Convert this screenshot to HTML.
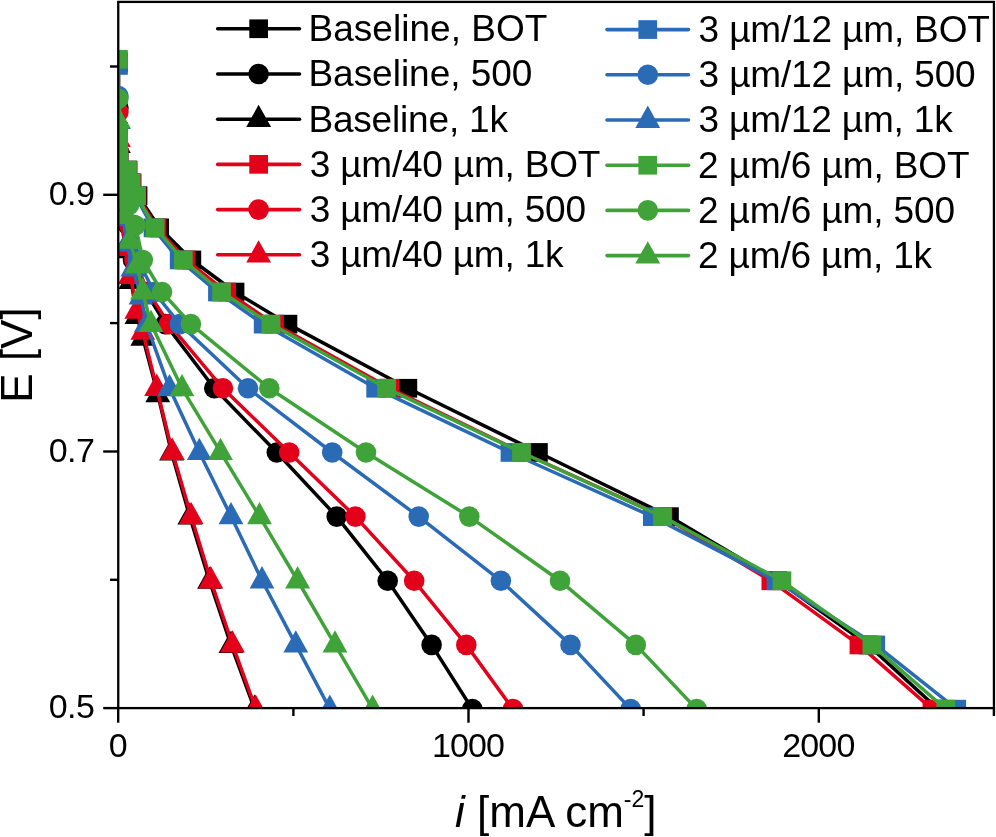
<!DOCTYPE html>
<html><head><meta charset="utf-8"><title>Polarization curves</title>
<style>
html,body{margin:0;padding:0;background:#fff;}
body{width:996px;height:837px;overflow:hidden;}
svg{display:block;font-family:"Liberation Sans",sans-serif;fill:#000;}
</style></head><body>
<svg width="996" height="837" viewBox="0 0 996 837">
<rect width="996" height="837" fill="#fff"/>
<defs><clipPath id="plot"><rect x="118.25" y="1.9" width="875.7" height="706.2"/></clipPath></defs>
<g clip-path="url(#plot)">
<polyline fill="none" stroke="#000000" stroke-width="3.5" stroke-linejoin="round" points="938.0,709.1 868.0,644.9 778.0,580.8 669.5,516.6 538.5,452.5 407.9,388.3 288.0,324.1 235.0,292.0 191.8,260.0 159.7,227.9 138.0,195.8 132.0,183.0 128.0,170.1 119.0,157.3 118.6,144.5 118.5,131.6 118.4,62.0"/>
<rect x="928.6" y="699.8" width="18.7" height="18.7" fill="#000000"/>
<rect x="858.6" y="635.6" width="18.7" height="18.7" fill="#000000"/>
<rect x="768.6" y="571.4" width="18.7" height="18.7" fill="#000000"/>
<rect x="660.1" y="507.3" width="18.7" height="18.7" fill="#000000"/>
<rect x="529.1" y="443.1" width="18.7" height="18.7" fill="#000000"/>
<rect x="398.5" y="378.9" width="18.7" height="18.7" fill="#000000"/>
<rect x="278.6" y="314.8" width="18.7" height="18.7" fill="#000000"/>
<rect x="225.7" y="282.7" width="18.7" height="18.7" fill="#000000"/>
<rect x="182.5" y="250.6" width="18.7" height="18.7" fill="#000000"/>
<rect x="150.3" y="218.5" width="18.7" height="18.7" fill="#000000"/>
<rect x="128.7" y="186.4" width="18.7" height="18.7" fill="#000000"/>
<rect x="122.7" y="173.6" width="18.7" height="18.7" fill="#000000"/>
<rect x="118.7" y="160.8" width="18.7" height="18.7" fill="#000000"/>
<rect x="109.7" y="148.0" width="18.7" height="18.7" fill="#000000"/>
<rect x="109.2" y="135.1" width="18.7" height="18.7" fill="#000000"/>
<rect x="109.2" y="122.3" width="18.7" height="18.7" fill="#000000"/>
<rect x="109.1" y="52.6" width="18.7" height="18.7" fill="#000000"/>
<polyline fill="none" stroke="#000000" stroke-width="3.5" stroke-linejoin="round" points="472.3,709.1 431.6,644.9 387.7,580.8 336.7,516.6 276.8,452.5 214.3,388.3 165.5,324.1 146.0,292.0 133.0,260.0 128.0,225.0 123.0,203.0 118.4,108.0"/>
<circle cx="472.3" cy="709.1" r="10.3" fill="#000000"/>
<circle cx="431.6" cy="644.9" r="10.3" fill="#000000"/>
<circle cx="387.7" cy="580.8" r="10.3" fill="#000000"/>
<circle cx="336.7" cy="516.6" r="10.3" fill="#000000"/>
<circle cx="276.8" cy="452.5" r="10.3" fill="#000000"/>
<circle cx="214.3" cy="388.3" r="10.3" fill="#000000"/>
<circle cx="165.5" cy="324.1" r="10.3" fill="#000000"/>
<circle cx="146.0" cy="292.0" r="10.3" fill="#000000"/>
<circle cx="133.0" cy="260.0" r="10.3" fill="#000000"/>
<circle cx="128.0" cy="225.0" r="10.3" fill="#000000"/>
<circle cx="123.0" cy="203.0" r="10.3" fill="#000000"/>
<circle cx="118.4" cy="108.0" r="10.3" fill="#000000"/>
<polyline fill="none" stroke="#000000" stroke-width="3.5" stroke-linejoin="round" points="254.5,708.8 231.0,645.0 209.5,580.9 189.8,516.7 171.5,452.6 157.8,394.4 142.8,337.9 137.0,316.0 131.0,281.0 125.5,250.4 122.0,222.0 119.5,200.0 118.4,145.0"/>
<polygon points="254.5,694.4 242.1,716.7 266.9,716.7" fill="#000000"/>
<polygon points="231.0,630.6 218.6,652.9 243.4,652.9" fill="#000000"/>
<polygon points="209.5,566.5 197.1,588.8 221.9,588.8" fill="#000000"/>
<polygon points="189.8,502.3 177.4,524.6 202.2,524.6" fill="#000000"/>
<polygon points="171.5,438.2 159.1,460.5 183.9,460.5" fill="#000000"/>
<polygon points="157.8,380.0 145.4,402.3 170.2,402.3" fill="#000000"/>
<polygon points="142.8,323.5 130.4,345.8 155.2,345.8" fill="#000000"/>
<polygon points="137.0,301.6 124.5,323.9 149.4,323.9" fill="#000000"/>
<polygon points="131.0,266.6 118.5,288.9 143.4,288.9" fill="#000000"/>
<polygon points="125.5,236.0 113.0,258.3 137.9,258.3" fill="#000000"/>
<polygon points="122.0,207.6 109.5,229.9 134.4,229.9" fill="#000000"/>
<polygon points="119.5,185.6 107.0,207.9 131.9,207.9" fill="#000000"/>
<polygon points="118.4,130.6 106.0,152.9 130.8,152.9" fill="#000000"/>
<polyline fill="none" stroke="#e2001a" stroke-width="3.5" stroke-linejoin="round" points="932.0,709.1 859.0,644.9 770.9,580.8 663.0,516.6 522.0,452.5 390.0,388.3 274.6,324.1 226.7,292.0 186.1,260.0 157.0,227.9 137.0,195.8 131.5,183.0 127.7,170.1 119.0,157.3 118.6,144.5 118.5,131.6 118.4,63.0"/>
<rect x="922.6" y="699.8" width="18.7" height="18.7" fill="#e2001a"/>
<rect x="849.6" y="635.6" width="18.7" height="18.7" fill="#e2001a"/>
<rect x="761.5" y="571.4" width="18.7" height="18.7" fill="#e2001a"/>
<rect x="653.6" y="507.3" width="18.7" height="18.7" fill="#e2001a"/>
<rect x="512.6" y="443.1" width="18.7" height="18.7" fill="#e2001a"/>
<rect x="380.6" y="378.9" width="18.7" height="18.7" fill="#e2001a"/>
<rect x="265.2" y="314.8" width="18.7" height="18.7" fill="#e2001a"/>
<rect x="217.3" y="282.7" width="18.7" height="18.7" fill="#e2001a"/>
<rect x="176.8" y="250.6" width="18.7" height="18.7" fill="#e2001a"/>
<rect x="147.7" y="218.5" width="18.7" height="18.7" fill="#e2001a"/>
<rect x="127.7" y="186.4" width="18.7" height="18.7" fill="#e2001a"/>
<rect x="122.2" y="173.6" width="18.7" height="18.7" fill="#e2001a"/>
<rect x="118.4" y="160.8" width="18.7" height="18.7" fill="#e2001a"/>
<rect x="109.7" y="148.0" width="18.7" height="18.7" fill="#e2001a"/>
<rect x="109.2" y="135.1" width="18.7" height="18.7" fill="#e2001a"/>
<rect x="109.2" y="122.3" width="18.7" height="18.7" fill="#e2001a"/>
<rect x="109.1" y="53.6" width="18.7" height="18.7" fill="#e2001a"/>
<polyline fill="none" stroke="#e2001a" stroke-width="3.5" stroke-linejoin="round" points="513.0,709.1 466.3,644.9 414.2,580.8 355.4,516.6 289.2,452.5 222.9,388.3 169.0,324.1 148.0,292.0 134.5,260.0 129.0,225.0 124.0,203.0 118.4,112.0"/>
<circle cx="513.0" cy="709.1" r="10.3" fill="#e2001a"/>
<circle cx="466.3" cy="644.9" r="10.3" fill="#e2001a"/>
<circle cx="414.2" cy="580.8" r="10.3" fill="#e2001a"/>
<circle cx="355.4" cy="516.6" r="10.3" fill="#e2001a"/>
<circle cx="289.2" cy="452.5" r="10.3" fill="#e2001a"/>
<circle cx="222.9" cy="388.3" r="10.3" fill="#e2001a"/>
<circle cx="169.0" cy="324.1" r="10.3" fill="#e2001a"/>
<circle cx="148.0" cy="292.0" r="10.3" fill="#e2001a"/>
<circle cx="134.5" cy="260.0" r="10.3" fill="#e2001a"/>
<circle cx="129.0" cy="225.0" r="10.3" fill="#e2001a"/>
<circle cx="124.0" cy="203.0" r="10.3" fill="#e2001a"/>
<circle cx="118.4" cy="112.0" r="10.3" fill="#e2001a"/>
<polyline fill="none" stroke="#e2001a" stroke-width="3.5" stroke-linejoin="round" points="255.7,708.8 232.5,644.6 210.8,580.5 191.2,516.3 172.4,452.2 156.7,388.0 142.8,331.9 136.8,310.8 130.5,276.2 125.0,248.0 121.5,220.0 119.5,198.0 118.4,139.0"/>
<polygon points="255.7,694.4 243.2,716.7 268.1,716.7" fill="#e2001a"/>
<polygon points="232.5,630.2 220.1,652.5 244.9,652.5" fill="#e2001a"/>
<polygon points="210.8,566.1 198.4,588.4 223.2,588.4" fill="#e2001a"/>
<polygon points="191.2,501.9 178.8,524.2 203.6,524.2" fill="#e2001a"/>
<polygon points="172.4,437.8 160.0,460.1 184.8,460.1" fill="#e2001a"/>
<polygon points="156.7,373.6 144.2,395.9 169.1,395.9" fill="#e2001a"/>
<polygon points="142.8,317.5 130.4,339.8 155.2,339.8" fill="#e2001a"/>
<polygon points="136.8,296.4 124.4,318.7 149.2,318.7" fill="#e2001a"/>
<polygon points="130.5,261.8 118.0,284.1 142.9,284.1" fill="#e2001a"/>
<polygon points="125.0,233.6 112.5,255.9 137.4,255.9" fill="#e2001a"/>
<polygon points="121.5,205.6 109.0,227.9 133.9,227.9" fill="#e2001a"/>
<polygon points="119.5,183.6 107.0,205.9 131.9,205.9" fill="#e2001a"/>
<polygon points="118.4,124.6 106.0,146.9 130.8,146.9" fill="#e2001a"/>
<polyline fill="none" stroke="#2b6bb6" stroke-width="3.5" stroke-linejoin="round" points="956.7,709.1 875.7,644.9 776.0,580.8 652.4,516.6 510.0,452.5 375.7,388.3 263.2,324.1 217.4,292.0 179.2,260.0 153.0,227.9 135.5,195.8 130.5,183.0 127.0,170.1 118.8,157.3 118.5,144.5 118.4,131.6 118.4,65.5"/>
<rect x="947.4" y="699.8" width="18.7" height="18.7" fill="#2b6bb6"/>
<rect x="866.4" y="635.6" width="18.7" height="18.7" fill="#2b6bb6"/>
<rect x="766.6" y="571.4" width="18.7" height="18.7" fill="#2b6bb6"/>
<rect x="643.0" y="507.3" width="18.7" height="18.7" fill="#2b6bb6"/>
<rect x="500.6" y="443.1" width="18.7" height="18.7" fill="#2b6bb6"/>
<rect x="366.3" y="378.9" width="18.7" height="18.7" fill="#2b6bb6"/>
<rect x="253.8" y="314.8" width="18.7" height="18.7" fill="#2b6bb6"/>
<rect x="208.1" y="282.7" width="18.7" height="18.7" fill="#2b6bb6"/>
<rect x="169.8" y="250.6" width="18.7" height="18.7" fill="#2b6bb6"/>
<rect x="143.7" y="218.5" width="18.7" height="18.7" fill="#2b6bb6"/>
<rect x="126.2" y="186.4" width="18.7" height="18.7" fill="#2b6bb6"/>
<rect x="121.2" y="173.6" width="18.7" height="18.7" fill="#2b6bb6"/>
<rect x="117.7" y="160.8" width="18.7" height="18.7" fill="#2b6bb6"/>
<rect x="109.5" y="148.0" width="18.7" height="18.7" fill="#2b6bb6"/>
<rect x="109.2" y="135.1" width="18.7" height="18.7" fill="#2b6bb6"/>
<rect x="109.1" y="122.3" width="18.7" height="18.7" fill="#2b6bb6"/>
<rect x="109.1" y="56.1" width="18.7" height="18.7" fill="#2b6bb6"/>
<polyline fill="none" stroke="#2b6bb6" stroke-width="3.5" stroke-linejoin="round" points="630.7,709.1 570.5,644.9 500.9,580.8 418.7,516.6 332.2,452.5 248.0,388.3 179.8,324.1 154.0,292.0 138.0,260.0 134.0,225.0 128.0,204.0 118.4,96.0"/>
<circle cx="630.7" cy="709.1" r="10.3" fill="#2b6bb6"/>
<circle cx="570.5" cy="644.9" r="10.3" fill="#2b6bb6"/>
<circle cx="500.9" cy="580.8" r="10.3" fill="#2b6bb6"/>
<circle cx="418.7" cy="516.6" r="10.3" fill="#2b6bb6"/>
<circle cx="332.2" cy="452.5" r="10.3" fill="#2b6bb6"/>
<circle cx="248.0" cy="388.3" r="10.3" fill="#2b6bb6"/>
<circle cx="179.8" cy="324.1" r="10.3" fill="#2b6bb6"/>
<circle cx="154.0" cy="292.0" r="10.3" fill="#2b6bb6"/>
<circle cx="138.0" cy="260.0" r="10.3" fill="#2b6bb6"/>
<circle cx="134.0" cy="225.0" r="10.3" fill="#2b6bb6"/>
<circle cx="128.0" cy="204.0" r="10.3" fill="#2b6bb6"/>
<circle cx="118.4" cy="96.0" r="10.3" fill="#2b6bb6"/>
<polyline fill="none" stroke="#2b6bb6" stroke-width="3.5" stroke-linejoin="round" points="329.8,708.8 295.8,644.6 262.0,580.5 231.0,516.3 199.3,452.2 169.5,388.3 146.4,324.1 141.0,296.5 133.0,268.7 127.0,243.7 123.0,218.0 120.0,196.0 118.4,121.0"/>
<polygon points="329.8,694.4 317.4,716.7 342.2,716.7" fill="#2b6bb6"/>
<polygon points="295.8,630.2 283.4,652.5 308.2,652.5" fill="#2b6bb6"/>
<polygon points="262.0,566.1 249.6,588.4 274.4,588.4" fill="#2b6bb6"/>
<polygon points="231.0,501.9 218.6,524.2 243.4,524.2" fill="#2b6bb6"/>
<polygon points="199.3,437.8 186.9,460.1 211.8,460.1" fill="#2b6bb6"/>
<polygon points="169.5,373.9 157.1,396.2 181.9,396.2" fill="#2b6bb6"/>
<polygon points="146.4,309.7 134.0,332.0 158.8,332.0" fill="#2b6bb6"/>
<polygon points="141.0,282.1 128.6,304.4 153.4,304.4" fill="#2b6bb6"/>
<polygon points="133.0,254.3 120.5,276.6 145.4,276.6" fill="#2b6bb6"/>
<polygon points="127.0,229.3 114.5,251.6 139.4,251.6" fill="#2b6bb6"/>
<polygon points="123.0,203.6 110.5,225.9 135.4,225.9" fill="#2b6bb6"/>
<polygon points="120.0,181.6 107.5,203.9 132.4,203.9" fill="#2b6bb6"/>
<polygon points="118.4,106.6 106.0,128.9 130.8,128.9" fill="#2b6bb6"/>
<polyline fill="none" stroke="#3fa339" stroke-width="3.5" stroke-linejoin="round" points="945.7,709.1 871.9,644.9 782.0,580.8 662.5,516.6 521.5,452.5 386.6,388.3 271.0,324.1 221.5,292.0 183.3,260.0 155.2,227.9 136.5,195.8 131.2,183.0 127.4,170.1 118.9,157.3 118.5,144.5 118.4,131.6 118.4,59.3"/>
<rect x="936.4" y="699.8" width="18.7" height="18.7" fill="#3fa339"/>
<rect x="862.5" y="635.6" width="18.7" height="18.7" fill="#3fa339"/>
<rect x="772.6" y="571.4" width="18.7" height="18.7" fill="#3fa339"/>
<rect x="653.1" y="507.3" width="18.7" height="18.7" fill="#3fa339"/>
<rect x="512.1" y="443.1" width="18.7" height="18.7" fill="#3fa339"/>
<rect x="377.2" y="378.9" width="18.7" height="18.7" fill="#3fa339"/>
<rect x="261.6" y="314.8" width="18.7" height="18.7" fill="#3fa339"/>
<rect x="212.2" y="282.7" width="18.7" height="18.7" fill="#3fa339"/>
<rect x="174.0" y="250.6" width="18.7" height="18.7" fill="#3fa339"/>
<rect x="145.8" y="218.5" width="18.7" height="18.7" fill="#3fa339"/>
<rect x="127.2" y="186.4" width="18.7" height="18.7" fill="#3fa339"/>
<rect x="121.8" y="173.6" width="18.7" height="18.7" fill="#3fa339"/>
<rect x="118.1" y="160.8" width="18.7" height="18.7" fill="#3fa339"/>
<rect x="109.6" y="148.0" width="18.7" height="18.7" fill="#3fa339"/>
<rect x="109.2" y="135.1" width="18.7" height="18.7" fill="#3fa339"/>
<rect x="109.1" y="122.3" width="18.7" height="18.7" fill="#3fa339"/>
<rect x="109.1" y="49.9" width="18.7" height="18.7" fill="#3fa339"/>
<polyline fill="none" stroke="#3fa339" stroke-width="3.5" stroke-linejoin="round" points="696.7,709.1 635.8,644.9 560.0,580.8 469.3,516.6 366.0,452.5 269.3,388.3 190.9,324.1 162.0,292.0 142.8,260.0 135.5,225.5 129.0,205.0 118.4,98.7"/>
<circle cx="696.7" cy="709.1" r="10.3" fill="#3fa339"/>
<circle cx="635.8" cy="644.9" r="10.3" fill="#3fa339"/>
<circle cx="560.0" cy="580.8" r="10.3" fill="#3fa339"/>
<circle cx="469.3" cy="516.6" r="10.3" fill="#3fa339"/>
<circle cx="366.0" cy="452.5" r="10.3" fill="#3fa339"/>
<circle cx="269.3" cy="388.3" r="10.3" fill="#3fa339"/>
<circle cx="190.9" cy="324.1" r="10.3" fill="#3fa339"/>
<circle cx="162.0" cy="292.0" r="10.3" fill="#3fa339"/>
<circle cx="142.8" cy="260.0" r="10.3" fill="#3fa339"/>
<circle cx="135.5" cy="225.5" r="10.3" fill="#3fa339"/>
<circle cx="129.0" cy="205.0" r="10.3" fill="#3fa339"/>
<circle cx="118.4" cy="98.7" r="10.3" fill="#3fa339"/>
<polyline fill="none" stroke="#3fa339" stroke-width="3.5" stroke-linejoin="round" points="372.6,708.8 335.0,644.6 297.6,580.5 259.5,516.3 220.5,452.2 182.0,388.3 151.0,324.1 142.6,291.5 137.0,265.6 130.0,240.8 125.0,216.0 121.0,195.0 118.4,120.5"/>
<polygon points="372.6,694.4 360.2,716.7 385.1,716.7" fill="#3fa339"/>
<polygon points="335.0,630.2 322.6,652.5 347.4,652.5" fill="#3fa339"/>
<polygon points="297.6,566.1 285.2,588.4 310.1,588.4" fill="#3fa339"/>
<polygon points="259.5,501.9 247.1,524.2 271.9,524.2" fill="#3fa339"/>
<polygon points="220.5,437.8 208.1,460.1 232.9,460.1" fill="#3fa339"/>
<polygon points="182.0,373.9 169.6,396.2 194.4,396.2" fill="#3fa339"/>
<polygon points="151.0,309.7 138.6,332.0 163.4,332.0" fill="#3fa339"/>
<polygon points="142.6,277.1 130.2,299.4 155.0,299.4" fill="#3fa339"/>
<polygon points="137.0,251.2 124.5,273.5 149.4,273.5" fill="#3fa339"/>
<polygon points="130.0,226.4 117.5,248.7 142.4,248.7" fill="#3fa339"/>
<polygon points="125.0,201.6 112.5,223.9 137.4,223.9" fill="#3fa339"/>
<polygon points="121.0,180.6 108.5,202.9 133.4,202.9" fill="#3fa339"/>
<polygon points="118.4,106.1 106.0,128.4 130.8,128.4" fill="#3fa339"/>
</g>
<rect x="118.25" y="1.9" width="875.7" height="706.2" fill="none" stroke="#000" stroke-width="2.3"/>
<line x1="118.2" y1="708.1" x2="118.2" y2="722.7" stroke="#000" stroke-width="2.4"/>
<line x1="293.4" y1="708.1" x2="293.4" y2="716.0" stroke="#000" stroke-width="2.4"/>
<line x1="468.5" y1="708.1" x2="468.5" y2="722.7" stroke="#000" stroke-width="2.4"/>
<line x1="643.6" y1="708.1" x2="643.6" y2="716.0" stroke="#000" stroke-width="2.4"/>
<line x1="818.8" y1="708.1" x2="818.8" y2="722.7" stroke="#000" stroke-width="2.4"/>
<line x1="993.9" y1="708.1" x2="993.9" y2="716.0" stroke="#000" stroke-width="2.4"/>
<line x1="118.25" y1="708.1" x2="103.2" y2="708.1" stroke="#000" stroke-width="2.4"/>
<line x1="118.25" y1="579.8" x2="110.0" y2="579.8" stroke="#000" stroke-width="2.4"/>
<line x1="118.25" y1="451.5" x2="103.2" y2="451.5" stroke="#000" stroke-width="2.4"/>
<line x1="118.25" y1="323.1" x2="110.0" y2="323.1" stroke="#000" stroke-width="2.4"/>
<line x1="118.25" y1="194.8" x2="103.2" y2="194.8" stroke="#000" stroke-width="2.4"/>
<line x1="118.25" y1="66.5" x2="110.0" y2="66.5" stroke="#000" stroke-width="2.4"/>
<text x="118.2" y="757.1" text-anchor="middle" font-size="34">0</text>
<text x="468.5" y="757.1" text-anchor="middle" font-size="34" textLength="73" lengthAdjust="spacing">1000</text>
<text x="818.8" y="757.1" text-anchor="middle" font-size="34" textLength="73" lengthAdjust="spacing">2000</text>
<text x="94.9" y="718.3" text-anchor="end" font-size="34" textLength="46.2" lengthAdjust="spacing">0.5</text>
<text x="94.9" y="461.7" text-anchor="end" font-size="34" textLength="46.2" lengthAdjust="spacing">0.7</text>
<text x="94.9" y="205.0" text-anchor="end" font-size="34" textLength="46.2" lengthAdjust="spacing">0.9</text>
<line x1="217.7" y1="28.8" x2="299.5" y2="28.8" stroke="#000000" stroke-width="3.6" stroke-linecap="round"/>
<rect x="249.3" y="19.4" width="18.7" height="18.7" fill="#000000"/>
<text x="308.40" y="41.0" font-size="37" textLength="239.06" lengthAdjust="spacing">Baseline, BOT</text>
<line x1="607.0" y1="29.6" x2="688.5" y2="29.6" stroke="#2b6bb6" stroke-width="3.6" stroke-linecap="round"/>
<rect x="638.4" y="20.2" width="18.7" height="18.7" fill="#2b6bb6"/>
<text x="698.60" y="41.9" font-size="37" textLength="291.28" lengthAdjust="spacing">3 µm/12 µm, BOT</text>
<line x1="217.7" y1="74.0" x2="299.5" y2="74.0" stroke="#000000" stroke-width="3.6" stroke-linecap="round"/>
<circle cx="258.6" cy="74.0" r="10.3" fill="#000000"/>
<text x="308.40" y="86.2" font-size="37" textLength="224.03" lengthAdjust="spacing">Baseline, 500</text>
<line x1="607.0" y1="74.8" x2="688.5" y2="74.8" stroke="#2b6bb6" stroke-width="3.6" stroke-linecap="round"/>
<circle cx="647.8" cy="74.8" r="10.3" fill="#2b6bb6"/>
<text x="698.60" y="87.1" font-size="37" textLength="277.06" lengthAdjust="spacing">3 µm/12 µm, 500</text>
<line x1="217.7" y1="119.2" x2="299.5" y2="119.2" stroke="#000000" stroke-width="3.6" stroke-linecap="round"/>
<polygon points="258.6,104.8 246.2,127.1 271.1,127.1" fill="#000000"/>
<text x="308.40" y="131.5" font-size="37" textLength="199.58" lengthAdjust="spacing">Baseline, 1k</text>
<line x1="607.0" y1="120.0" x2="688.5" y2="120.0" stroke="#2b6bb6" stroke-width="3.6" stroke-linecap="round"/>
<polygon points="647.8,105.6 635.3,127.9 660.2,127.9" fill="#2b6bb6"/>
<text x="698.60" y="132.3" font-size="37" textLength="254.10" lengthAdjust="spacing">3 µm/12 µm, 1k</text>
<line x1="217.7" y1="164.4" x2="299.5" y2="164.4" stroke="#e2001a" stroke-width="3.6" stroke-linecap="round"/>
<rect x="249.3" y="155.0" width="18.7" height="18.7" fill="#e2001a"/>
<text x="309.70" y="176.7" font-size="37" textLength="290.68" lengthAdjust="spacing">3 µm/40 µm, BOT</text>
<line x1="607.0" y1="165.2" x2="688.5" y2="165.2" stroke="#3fa339" stroke-width="3.6" stroke-linecap="round"/>
<rect x="638.4" y="155.9" width="18.7" height="18.7" fill="#3fa339"/>
<text x="698.00" y="177.5" font-size="37" textLength="271.61" lengthAdjust="spacing">2 µm/6 µm, BOT</text>
<line x1="217.7" y1="209.6" x2="299.5" y2="209.6" stroke="#e2001a" stroke-width="3.6" stroke-linecap="round"/>
<circle cx="258.6" cy="209.6" r="10.3" fill="#e2001a"/>
<text x="309.70" y="221.9" font-size="37" textLength="276.26" lengthAdjust="spacing">3 µm/40 µm, 500</text>
<line x1="607.0" y1="210.4" x2="688.5" y2="210.4" stroke="#3fa339" stroke-width="3.6" stroke-linecap="round"/>
<circle cx="647.8" cy="210.4" r="10.3" fill="#3fa339"/>
<text x="698.00" y="222.7" font-size="37" textLength="257.08" lengthAdjust="spacing">2 µm/6 µm, 500</text>
<line x1="217.7" y1="254.8" x2="299.5" y2="254.8" stroke="#e2001a" stroke-width="3.6" stroke-linecap="round"/>
<polygon points="258.6,240.3 246.2,262.6 271.1,262.6" fill="#e2001a"/>
<text x="309.70" y="267.1" font-size="37" textLength="253.80" lengthAdjust="spacing">3 µm/40 µm, 1k</text>
<line x1="607.0" y1="255.6" x2="688.5" y2="255.6" stroke="#3fa339" stroke-width="3.6" stroke-linecap="round"/>
<polygon points="647.8,241.2 635.3,263.5 660.2,263.5" fill="#3fa339"/>
<text x="698.00" y="267.9" font-size="37" textLength="234.12" lengthAdjust="spacing">2 µm/6 µm, 1k</text>
<text x="555.8" y="827.2" text-anchor="middle" font-size="44"><tspan font-style="italic">i</tspan> [mA cm<tspan font-size="23" dy="-20.5">-2</tspan><tspan dy="20.5">]</tspan></text>
<text transform="translate(32.2,355) rotate(-90)" text-anchor="middle" font-size="44">E [V]</text>
</svg>
</body></html>
